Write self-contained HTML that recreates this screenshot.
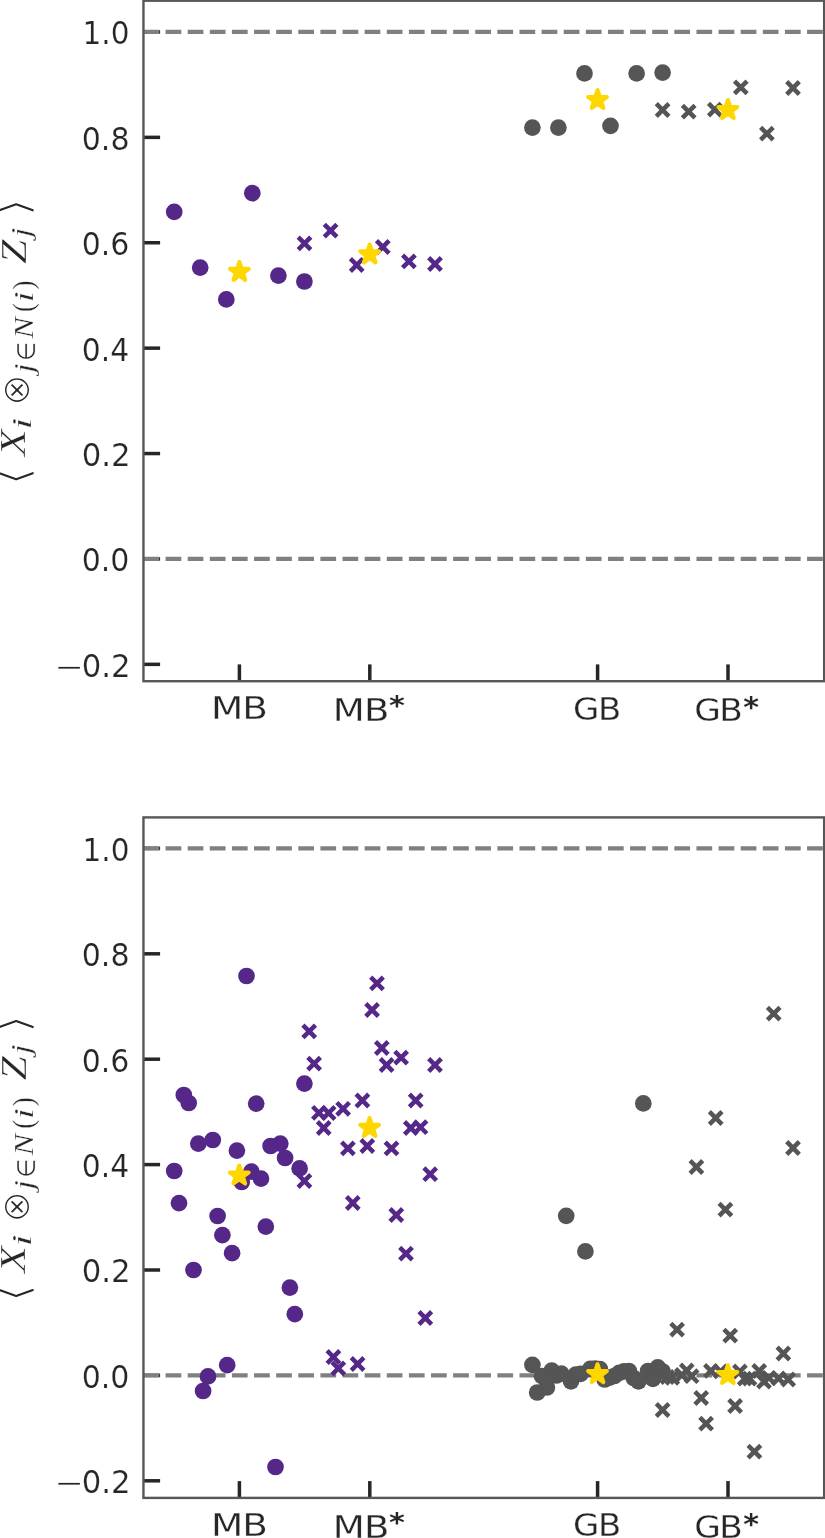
<!DOCTYPE html>
<html lang="en">
<head>
<meta charset="utf-8">
<title>Stabilizer expectation values</title>
<style>
html,body{margin:0;padding:0;background:#fff;}
svg{display:block;}
</style>
</head>
<body>
<svg width="825" height="1538" viewBox="0 0 825 1538">
<rect width="825" height="1538" fill="#fff"/>
<g id="plot-top">
<path d="M143.45 31.95H160.1" stroke="#262626" stroke-width="3.5"/>
<path d="M143.45 137.35H160.1" stroke="#262626" stroke-width="3.5"/>
<path d="M143.45 242.75H160.1" stroke="#262626" stroke-width="3.5"/>
<path d="M143.45 348.15H160.1" stroke="#262626" stroke-width="3.5"/>
<path d="M143.45 453.55H160.1" stroke="#262626" stroke-width="3.5"/>
<path d="M143.45 558.95H160.1" stroke="#262626" stroke-width="3.5"/>
<path d="M143.45 664.35H160.1" stroke="#262626" stroke-width="3.5"/>
<path d="M239.4 681.1V664.4" stroke="#262626" stroke-width="3.5"/>
<path d="M369.8 681.1V664.4" stroke="#262626" stroke-width="3.5"/>
<path d="M597.6 681.1V664.4" stroke="#262626" stroke-width="3.5"/>
<path d="M728.0 681.1V664.4" stroke="#262626" stroke-width="3.5"/>
<path d="M143.45 31.95H824.1" stroke="#808080" stroke-width="4.17" stroke-dasharray="15.72 6.40"/>
<path d="M143.45 558.95H824.1" stroke="#808080" stroke-width="4.17" stroke-dasharray="15.72 6.40"/>
<circle cx="174.2" cy="211.9" r="8.35" fill="#542788"/>
<circle cx="200.2" cy="267.6" r="8.35" fill="#542788"/>
<circle cx="226.3" cy="299.4" r="8.35" fill="#542788"/>
<circle cx="252.3" cy="193.2" r="8.35" fill="#542788"/>
<circle cx="278.4" cy="275.6" r="8.35" fill="#542788"/>
<circle cx="304.4" cy="281.5" r="8.35" fill="#542788"/>
<path d="M298.2 237.1L310.8 249.7M298.2 249.7L310.8 237.1" stroke="#542788" stroke-width="4.5" fill="none"/>
<path d="M324.3 224.3L336.9 236.9M324.3 236.9L336.9 224.3" stroke="#542788" stroke-width="4.5" fill="none"/>
<path d="M350.4 258.7L363.0 271.3M350.4 271.3L363.0 258.7" stroke="#542788" stroke-width="4.5" fill="none"/>
<path d="M376.5 240.7L389.1 253.3M376.5 253.3L389.1 240.7" stroke="#542788" stroke-width="4.5" fill="none"/>
<path d="M402.6 255.1L415.2 267.7M402.6 267.7L415.2 255.1" stroke="#542788" stroke-width="4.5" fill="none"/>
<path d="M428.7 257.7L441.3 270.3M428.7 270.3L441.3 257.7" stroke="#542788" stroke-width="4.5" fill="none"/>
<circle cx="532.4" cy="127.6" r="8.35" fill="#555555"/>
<circle cx="558.4" cy="127.6" r="8.35" fill="#555555"/>
<circle cx="584.5" cy="73.4" r="8.35" fill="#555555"/>
<circle cx="610.5" cy="125.8" r="8.35" fill="#555555"/>
<circle cx="636.6" cy="73.4" r="8.35" fill="#555555"/>
<circle cx="662.6" cy="72.6" r="8.35" fill="#555555"/>
<path d="M656.3 103.7L668.9 116.3M656.3 116.3L668.9 103.7" stroke="#555555" stroke-width="4.5" fill="none"/>
<path d="M682.4 105.3L695.0 117.9M682.4 117.9L695.0 105.3" stroke="#555555" stroke-width="4.5" fill="none"/>
<path d="M708.5 103.3L721.1 115.9M708.5 115.9L721.1 103.3" stroke="#555555" stroke-width="4.5" fill="none"/>
<path d="M734.5 81.1L747.1 93.7M734.5 93.7L747.1 81.1" stroke="#555555" stroke-width="4.5" fill="none"/>
<path d="M760.6 127.3L773.2 139.9M760.6 139.9L773.2 127.3" stroke="#555555" stroke-width="4.5" fill="none"/>
<path d="M786.7 81.7L799.3 94.3M786.7 94.3L799.3 81.7" stroke="#555555" stroke-width="4.5" fill="none"/>
<polygon points="239.40,262.10 237.20,268.87 230.08,268.87 235.84,273.06 233.64,279.83 239.40,275.64 245.16,279.83 242.96,273.06 248.72,268.87 241.60,268.87" fill="#FFD700" stroke="#FFD700" stroke-width="4.17" stroke-linejoin="round"/>
<polygon points="369.70,244.60 367.50,251.37 360.38,251.37 366.14,255.56 363.94,262.33 369.70,258.14 375.46,262.33 373.26,255.56 379.02,251.37 371.90,251.37" fill="#FFD700" stroke="#FFD700" stroke-width="4.17" stroke-linejoin="round"/>
<polygon points="597.55,90.20 595.35,96.97 588.23,96.97 593.99,101.16 591.79,107.93 597.55,103.74 603.31,107.93 601.11,101.16 606.87,96.97 599.75,96.97" fill="#FFD700" stroke="#FFD700" stroke-width="4.17" stroke-linejoin="round"/>
<polygon points="727.90,100.20 725.70,106.97 718.58,106.97 724.34,111.16 722.14,117.93 727.90,113.74 733.66,117.93 731.46,111.16 737.22,106.97 730.10,106.97" fill="#FFD700" stroke="#FFD700" stroke-width="4.17" stroke-linejoin="round"/>
<rect x="143.45" y="0.7" width="680.7" height="680.5" fill="none" stroke="#575757" stroke-width="2.4"/>
<text transform="matrix(0.2948 0 0 0.3225 82.56 44.34)" font-family="'DejaVu Sans', 'Liberation Sans', sans-serif" font-style="normal" font-size="100" fill="#262626" stroke="#fff" stroke-width="0.2" vector-effect="non-scaling-stroke" stroke-linejoin="round">1.0</text>
<text transform="matrix(0.3008 0 0 0.3222 81.71 149.73)" font-family="'DejaVu Sans', 'Liberation Sans', sans-serif" font-style="normal" font-size="100" fill="#262626" stroke="#fff" stroke-width="0.2" vector-effect="non-scaling-stroke" stroke-linejoin="round">0.8</text>
<text transform="matrix(0.2997 0 0 0.3223 81.72 255.13)" font-family="'DejaVu Sans', 'Liberation Sans', sans-serif" font-style="normal" font-size="100" fill="#262626" stroke="#fff" stroke-width="0.2" vector-effect="non-scaling-stroke" stroke-linejoin="round">0.6</text>
<text transform="matrix(0.2982 0 0 0.3225 81.73 360.54)" font-family="'DejaVu Sans', 'Liberation Sans', sans-serif" font-style="normal" font-size="100" fill="#262626" stroke="#fff" stroke-width="0.2" vector-effect="non-scaling-stroke" stroke-linejoin="round">0.4</text>
<text transform="matrix(0.3074 0 0 0.3225 81.67 465.94)" font-family="'DejaVu Sans', 'Liberation Sans', sans-serif" font-style="normal" font-size="100" fill="#262626" stroke="#fff" stroke-width="0.2" vector-effect="non-scaling-stroke" stroke-linejoin="round">0.2</text>
<text transform="matrix(0.3003 0 0 0.3225 81.71 571.34)" font-family="'DejaVu Sans', 'Liberation Sans', sans-serif" font-style="normal" font-size="100" fill="#262626" stroke="#fff" stroke-width="0.2" vector-effect="non-scaling-stroke" stroke-linejoin="round">0.0</text>
<text transform="matrix(0.3074 0 0 0.3225 81.67 676.74)" font-family="'DejaVu Sans', 'Liberation Sans', sans-serif" font-style="normal" font-size="100" fill="#262626" stroke="#fff" stroke-width="0.2" vector-effect="non-scaling-stroke" stroke-linejoin="round">0.2</text>
<text transform="matrix(0.3436 0 0 0.2060 54.69 673.96)" font-family="'DejaVu Sans', 'Liberation Sans', sans-serif" font-style="normal" font-size="100" fill="#262626">−</text>
<text transform="matrix(0.3742 0 0 0.3247 0 719.45)" x="563.95 647.22" font-family="'DejaVu Sans', 'Liberation Sans', sans-serif" font-style="normal" font-size="100" fill="#262626" stroke="#fff" stroke-width="0.3" vector-effect="non-scaling-stroke" stroke-linejoin="round">MB</text>
<text transform="matrix(0.3709 0 0 0.3233 0 721.25)" x="897.25 981.47" font-family="'DejaVu Sans', 'Liberation Sans', sans-serif" font-style="normal" font-size="100" fill="#262626" stroke="#fff" stroke-width="0.3" vector-effect="non-scaling-stroke" stroke-linejoin="round">MB<tspan x="1049.14" dy="-18.02" font-weight="bold" font-size="81.7">*</tspan></text>
<text transform="matrix(0.3399 0 0 0.3239 0 719.63)" x="1686.01 1759.60" font-family="'DejaVu Sans', 'Liberation Sans', sans-serif" font-style="normal" font-size="100" fill="#262626" stroke="#fff" stroke-width="0.3" vector-effect="non-scaling-stroke" stroke-linejoin="round">GB</text>
<text transform="matrix(0.3442 0 0 0.3252 0 721.32)" x="2016.98 2089.81" font-family="'DejaVu Sans', 'Liberation Sans', sans-serif" font-style="normal" font-size="100" fill="#262626" stroke="#fff" stroke-width="0.3" vector-effect="non-scaling-stroke" stroke-linejoin="round">GB<tspan x="2159.53" dy="-13.53" font-weight="bold" font-size="87.4">*</tspan></text>
<text transform="matrix(0 -0.4765 0.4067 0 29.41 485.59)" font-family="'DejaVu Sans', 'Liberation Sans', sans-serif" font-style="normal" font-size="100" fill="#262626" stroke="#fff" stroke-width="1.4" vector-effect="non-scaling-stroke" stroke-linejoin="round">⟨</text>
<text transform="matrix(0 -0.4365 0.3588 0 25.42 456.03)" font-family="'Liberation Serif', 'DejaVu Serif', serif" font-style="italic" font-size="100" fill="#262626" stroke="#fff" stroke-width="0.4" vector-effect="non-scaling-stroke" stroke-linejoin="round">X</text>
<text transform="matrix(0 -0.4209 0.2806 0 31.21 429.50)" font-family="'Liberation Serif', 'DejaVu Serif', serif" font-style="italic" font-size="100" fill="#262626" stroke="#fff" stroke-width="0.3" vector-effect="non-scaling-stroke" stroke-linejoin="round">i</text>
<text transform="matrix(0 -0.3842 0.3806 0 28.70 405.98)" font-family="'DejaVu Sans', 'Liberation Sans', sans-serif" font-style="normal" font-size="100" fill="#262626" stroke="#fff" stroke-width="1.3" vector-effect="non-scaling-stroke" stroke-linejoin="round">⊗</text>
<text transform="matrix(0 -0.3355 0.2663 0 32.56 372.73)" font-family="'Liberation Serif', 'DejaVu Serif', serif" font-style="italic" font-size="100" fill="#262626" stroke="#fff" stroke-width="0.3" vector-effect="non-scaling-stroke" stroke-linejoin="round">j</text>
<text transform="matrix(0 -0.2173 0.2528 0 35.00 360.86)" font-family="'DejaVu Sans', 'Liberation Sans', sans-serif" font-style="normal" font-size="100" fill="#262626" stroke="#fff" stroke-width="0.3" vector-effect="non-scaling-stroke" stroke-linejoin="round">∈</text>
<text transform="matrix(0 -0.3260 0.2718 0 32.52 338.68)" font-family="'Liberation Serif', 'DejaVu Serif', serif" font-style="italic" font-size="100" fill="#262626" stroke="#fff" stroke-width="0.3" vector-effect="non-scaling-stroke" stroke-linejoin="round">N</text>
<text transform="matrix(0 -0.2649 0.2898 0 33.10 312.12)" font-family="'Liberation Serif', 'DejaVu Serif', serif" font-style="normal" font-size="100" fill="#262626" stroke="#fff" stroke-width="0.3" vector-effect="non-scaling-stroke" stroke-linejoin="round">(</text>
<text transform="matrix(0 -0.4050 0.2700 0 32.82 302.46)" font-family="'Liberation Serif', 'DejaVu Serif', serif" font-style="italic" font-size="100" fill="#262626" stroke="#fff" stroke-width="0.3" vector-effect="non-scaling-stroke" stroke-linejoin="round">i</text>
<text transform="matrix(0 -0.2809 0.2885 0 33.07 289.76)" font-family="'Liberation Serif', 'DejaVu Serif', serif" font-style="normal" font-size="100" fill="#262626" stroke="#fff" stroke-width="0.3" vector-effect="non-scaling-stroke" stroke-linejoin="round">)</text>
<text transform="matrix(0 -0.4325 0.3615 0 25.60 263.67)" font-family="'Liberation Serif', 'DejaVu Serif', serif" font-style="italic" font-size="100" fill="#262626" stroke="#fff" stroke-width="0.4" vector-effect="non-scaling-stroke" stroke-linejoin="round">Z</text>
<text transform="matrix(0 -0.3438 0.2628 0 30.03 237.34)" font-family="'Liberation Serif', 'DejaVu Serif', serif" font-style="italic" font-size="100" fill="#262626" stroke="#fff" stroke-width="0.3" vector-effect="non-scaling-stroke" stroke-linejoin="round">j</text>
<text transform="matrix(0 -0.4769 0.4067 0 29.41 216.61)" font-family="'DejaVu Sans', 'Liberation Sans', sans-serif" font-style="normal" font-size="100" fill="#262626" stroke="#fff" stroke-width="1.4" vector-effect="non-scaling-stroke" stroke-linejoin="round">⟩</text>
</g>
<g id="plot-bottom">
<path d="M143.45 848.40H160.1" stroke="#262626" stroke-width="3.5"/>
<path d="M143.45 953.80H160.1" stroke="#262626" stroke-width="3.5"/>
<path d="M143.45 1059.20H160.1" stroke="#262626" stroke-width="3.5"/>
<path d="M143.45 1164.60H160.1" stroke="#262626" stroke-width="3.5"/>
<path d="M143.45 1270.00H160.1" stroke="#262626" stroke-width="3.5"/>
<path d="M143.45 1375.40H160.1" stroke="#262626" stroke-width="3.5"/>
<path d="M143.45 1480.80H160.1" stroke="#262626" stroke-width="3.5"/>
<path d="M239.4 1497.8V1481.1" stroke="#262626" stroke-width="3.5"/>
<path d="M369.8 1497.8V1481.1" stroke="#262626" stroke-width="3.5"/>
<path d="M597.6 1497.8V1481.1" stroke="#262626" stroke-width="3.5"/>
<path d="M728.0 1497.8V1481.1" stroke="#262626" stroke-width="3.5"/>
<path d="M143.45 848.40H824.1" stroke="#808080" stroke-width="4.17" stroke-dasharray="15.72 6.40"/>
<path d="M143.45 1375.40H824.1" stroke="#808080" stroke-width="4.17" stroke-dasharray="15.72 6.40"/>
<circle cx="174.2" cy="1171.0" r="8.35" fill="#542788"/>
<circle cx="179.0" cy="1203.2" r="8.35" fill="#542788"/>
<circle cx="183.8" cy="1095.0" r="8.35" fill="#542788"/>
<circle cx="188.7" cy="1103.0" r="8.35" fill="#542788"/>
<circle cx="193.5" cy="1270.0" r="8.35" fill="#542788"/>
<circle cx="198.3" cy="1143.6" r="8.35" fill="#542788"/>
<circle cx="203.1" cy="1391.0" r="8.35" fill="#542788"/>
<circle cx="208.0" cy="1376.4" r="8.35" fill="#542788"/>
<circle cx="212.8" cy="1140.0" r="8.35" fill="#542788"/>
<circle cx="217.6" cy="1216.0" r="8.35" fill="#542788"/>
<circle cx="222.4" cy="1235.2" r="8.35" fill="#542788"/>
<circle cx="227.2" cy="1365.2" r="8.35" fill="#542788"/>
<circle cx="232.1" cy="1253.2" r="8.35" fill="#542788"/>
<circle cx="236.9" cy="1150.6" r="8.35" fill="#542788"/>
<circle cx="241.7" cy="1182.0" r="8.35" fill="#542788"/>
<circle cx="246.5" cy="976.0" r="8.35" fill="#542788"/>
<circle cx="251.4" cy="1171.6" r="8.35" fill="#542788"/>
<circle cx="256.2" cy="1103.6" r="8.35" fill="#542788"/>
<circle cx="261.0" cy="1178.6" r="8.35" fill="#542788"/>
<circle cx="265.8" cy="1226.6" r="8.35" fill="#542788"/>
<circle cx="270.6" cy="1146.0" r="8.35" fill="#542788"/>
<circle cx="275.5" cy="1467.0" r="8.35" fill="#542788"/>
<circle cx="280.3" cy="1143.6" r="8.35" fill="#542788"/>
<circle cx="285.1" cy="1158.0" r="8.35" fill="#542788"/>
<circle cx="289.9" cy="1287.6" r="8.35" fill="#542788"/>
<circle cx="294.8" cy="1314.2" r="8.35" fill="#542788"/>
<circle cx="299.6" cy="1168.4" r="8.35" fill="#542788"/>
<circle cx="304.4" cy="1083.6" r="8.35" fill="#542788"/>
<path d="M298.1 1174.7L310.7 1187.3M298.1 1187.3L310.7 1174.7" stroke="#542788" stroke-width="4.5" fill="none"/>
<path d="M302.9 1025.1L315.5 1037.7M302.9 1037.7L315.5 1025.1" stroke="#542788" stroke-width="4.5" fill="none"/>
<path d="M307.8 1057.3L320.4 1069.9M307.8 1069.9L320.4 1057.3" stroke="#542788" stroke-width="4.5" fill="none"/>
<path d="M312.6 1106.5L325.2 1119.1M312.6 1119.1L325.2 1106.5" stroke="#542788" stroke-width="4.5" fill="none"/>
<path d="M317.4 1121.7L330.0 1134.3M317.4 1134.3L330.0 1121.7" stroke="#542788" stroke-width="4.5" fill="none"/>
<path d="M322.3 1106.7L334.9 1119.3M322.3 1119.3L334.9 1106.7" stroke="#542788" stroke-width="4.5" fill="none"/>
<path d="M327.1 1350.7L339.7 1363.3M327.1 1363.3L339.7 1350.7" stroke="#542788" stroke-width="4.5" fill="none"/>
<path d="M332.0 1362.1L344.6 1374.7M332.0 1374.7L344.6 1362.1" stroke="#542788" stroke-width="4.5" fill="none"/>
<path d="M336.8 1102.5L349.4 1115.1M336.8 1115.1L349.4 1102.5" stroke="#542788" stroke-width="4.5" fill="none"/>
<path d="M341.6 1142.1L354.2 1154.7M341.6 1154.7L354.2 1142.1" stroke="#542788" stroke-width="4.5" fill="none"/>
<path d="M346.5 1196.7L359.1 1209.3M346.5 1209.3L359.1 1196.7" stroke="#542788" stroke-width="4.5" fill="none"/>
<path d="M351.3 1357.7L363.9 1370.3M351.3 1370.3L363.9 1357.7" stroke="#542788" stroke-width="4.5" fill="none"/>
<path d="M356.1 1094.2L368.7 1106.8M356.1 1106.8L368.7 1094.2" stroke="#542788" stroke-width="4.5" fill="none"/>
<path d="M361.0 1139.7L373.6 1152.3M361.0 1152.3L373.6 1139.7" stroke="#542788" stroke-width="4.5" fill="none"/>
<path d="M365.8 1003.7L378.4 1016.3M365.8 1016.3L378.4 1003.7" stroke="#542788" stroke-width="4.5" fill="none"/>
<path d="M370.7 977.1L383.3 989.7M370.7 989.7L383.3 977.1" stroke="#542788" stroke-width="4.5" fill="none"/>
<path d="M375.5 1041.7L388.1 1054.3M375.5 1054.3L388.1 1041.7" stroke="#542788" stroke-width="4.5" fill="none"/>
<path d="M380.3 1058.7L392.9 1071.3M380.3 1071.3L392.9 1058.7" stroke="#542788" stroke-width="4.5" fill="none"/>
<path d="M385.2 1142.1L397.8 1154.7M385.2 1154.7L397.8 1142.1" stroke="#542788" stroke-width="4.5" fill="none"/>
<path d="M390.0 1208.7L402.6 1221.3M390.0 1221.3L402.6 1208.7" stroke="#542788" stroke-width="4.5" fill="none"/>
<path d="M394.8 1051.3L407.4 1063.9M394.8 1063.9L407.4 1051.3" stroke="#542788" stroke-width="4.5" fill="none"/>
<path d="M399.7 1247.3L412.3 1259.9M399.7 1259.9L412.3 1247.3" stroke="#542788" stroke-width="4.5" fill="none"/>
<path d="M404.5 1121.7L417.1 1134.3M404.5 1134.3L417.1 1121.7" stroke="#542788" stroke-width="4.5" fill="none"/>
<path d="M409.4 1094.2L422.0 1106.8M409.4 1106.8L422.0 1094.2" stroke="#542788" stroke-width="4.5" fill="none"/>
<path d="M414.2 1120.9L426.8 1133.5M414.2 1133.5L426.8 1120.9" stroke="#542788" stroke-width="4.5" fill="none"/>
<path d="M419.0 1311.7L431.6 1324.3M419.0 1324.3L431.6 1311.7" stroke="#542788" stroke-width="4.5" fill="none"/>
<path d="M423.9 1167.9L436.5 1180.5M423.9 1180.5L436.5 1167.9" stroke="#542788" stroke-width="4.5" fill="none"/>
<path d="M428.7 1058.7L441.3 1071.3M428.7 1071.3L441.3 1058.7" stroke="#542788" stroke-width="4.5" fill="none"/>
<circle cx="532.4" cy="1364.8" r="8.35" fill="#555555"/>
<circle cx="537.2" cy="1392.5" r="8.35" fill="#555555"/>
<circle cx="542.0" cy="1376.2" r="8.35" fill="#555555"/>
<circle cx="546.9" cy="1387.5" r="8.35" fill="#555555"/>
<circle cx="551.7" cy="1370.7" r="8.35" fill="#555555"/>
<circle cx="556.5" cy="1375.5" r="8.35" fill="#555555"/>
<circle cx="561.3" cy="1373.6" r="8.35" fill="#555555"/>
<circle cx="566.2" cy="1215.8" r="8.35" fill="#555555"/>
<circle cx="571.0" cy="1381.3" r="8.35" fill="#555555"/>
<circle cx="575.8" cy="1374.7" r="8.35" fill="#555555"/>
<circle cx="580.6" cy="1373.9" r="8.35" fill="#555555"/>
<circle cx="585.4" cy="1251.4" r="8.35" fill="#555555"/>
<circle cx="590.3" cy="1368.8" r="8.35" fill="#555555"/>
<circle cx="595.1" cy="1368.6" r="8.35" fill="#555555"/>
<circle cx="599.9" cy="1369.2" r="8.35" fill="#555555"/>
<circle cx="604.7" cy="1379.5" r="8.35" fill="#555555"/>
<circle cx="609.6" cy="1377.7" r="8.35" fill="#555555"/>
<circle cx="614.4" cy="1376.0" r="8.35" fill="#555555"/>
<circle cx="619.2" cy="1372.8" r="8.35" fill="#555555"/>
<circle cx="624.0" cy="1371.4" r="8.35" fill="#555555"/>
<circle cx="628.8" cy="1371.0" r="8.35" fill="#555555"/>
<circle cx="633.7" cy="1378.0" r="8.35" fill="#555555"/>
<circle cx="638.5" cy="1381.3" r="8.35" fill="#555555"/>
<circle cx="643.3" cy="1103.4" r="8.35" fill="#555555"/>
<circle cx="648.1" cy="1371.0" r="8.35" fill="#555555"/>
<circle cx="652.9" cy="1378.8" r="8.35" fill="#555555"/>
<circle cx="657.8" cy="1367.4" r="8.35" fill="#555555"/>
<circle cx="662.6" cy="1371.5" r="8.35" fill="#555555"/>
<path d="M656.3 1403.7L668.9 1416.3M656.3 1416.3L668.9 1403.7" stroke="#555555" stroke-width="4.5" fill="none"/>
<path d="M661.1 1370.7L673.7 1383.3M661.1 1383.3L673.7 1370.7" stroke="#555555" stroke-width="4.5" fill="none"/>
<path d="M666.0 1371.5L678.6 1384.1M666.0 1384.1L678.6 1371.5" stroke="#555555" stroke-width="4.5" fill="none"/>
<path d="M670.8 1323.3L683.4 1335.9M670.8 1335.9L683.4 1323.3" stroke="#555555" stroke-width="4.5" fill="none"/>
<path d="M675.6 1368.7L688.2 1381.3M675.6 1381.3L688.2 1368.7" stroke="#555555" stroke-width="4.5" fill="none"/>
<path d="M680.5 1364.2L693.0 1376.8M680.5 1376.8L693.0 1364.2" stroke="#555555" stroke-width="4.5" fill="none"/>
<path d="M685.3 1369.9L697.9 1382.5M685.3 1382.5L697.9 1369.9" stroke="#555555" stroke-width="4.5" fill="none"/>
<path d="M690.1 1160.7L702.7 1173.3M690.1 1173.3L702.7 1160.7" stroke="#555555" stroke-width="4.5" fill="none"/>
<path d="M694.9 1391.7L707.5 1404.3M694.9 1404.3L707.5 1391.7" stroke="#555555" stroke-width="4.5" fill="none"/>
<path d="M699.8 1417.3L712.4 1429.9M699.8 1429.9L712.4 1417.3" stroke="#555555" stroke-width="4.5" fill="none"/>
<path d="M704.6 1364.6L717.2 1377.2M704.6 1377.2L717.2 1364.6" stroke="#555555" stroke-width="4.5" fill="none"/>
<path d="M709.4 1111.7L722.0 1124.3M709.4 1124.3L722.0 1111.7" stroke="#555555" stroke-width="4.5" fill="none"/>
<path d="M714.3 1365.0L726.9 1377.6M714.3 1377.6L726.9 1365.0" stroke="#555555" stroke-width="4.5" fill="none"/>
<path d="M719.1 1203.3L731.7 1215.9M719.1 1215.9L731.7 1203.3" stroke="#555555" stroke-width="4.5" fill="none"/>
<path d="M723.9 1329.3L736.5 1341.9M723.9 1341.9L736.5 1329.3" stroke="#555555" stroke-width="4.5" fill="none"/>
<path d="M728.8 1399.7L741.4 1412.3M728.8 1412.3L741.4 1399.7" stroke="#555555" stroke-width="4.5" fill="none"/>
<path d="M733.6 1365.2L746.2 1377.8M733.6 1377.8L746.2 1365.2" stroke="#555555" stroke-width="4.5" fill="none"/>
<path d="M738.4 1372.3L751.0 1384.9M738.4 1384.9L751.0 1372.3" stroke="#555555" stroke-width="4.5" fill="none"/>
<path d="M743.2 1372.3L755.8 1384.9M743.2 1384.9L755.8 1372.3" stroke="#555555" stroke-width="4.5" fill="none"/>
<path d="M748.1 1445.3L760.7 1457.9M748.1 1457.9L760.7 1445.3" stroke="#555555" stroke-width="4.5" fill="none"/>
<path d="M752.9 1364.7L765.5 1377.3M752.9 1377.3L765.5 1364.7" stroke="#555555" stroke-width="4.5" fill="none"/>
<path d="M757.7 1375.3L770.3 1387.9M757.7 1387.9L770.3 1375.3" stroke="#555555" stroke-width="4.5" fill="none"/>
<path d="M762.6 1371.5L775.2 1384.1M762.6 1384.1L775.2 1371.5" stroke="#555555" stroke-width="4.5" fill="none"/>
<path d="M767.4 1007.3L780.0 1019.9M767.4 1019.9L780.0 1007.3" stroke="#555555" stroke-width="4.5" fill="none"/>
<path d="M772.2 1372.1L784.8 1384.7M772.2 1384.7L784.8 1372.1" stroke="#555555" stroke-width="4.5" fill="none"/>
<path d="M777.1 1347.2L789.6 1359.8M777.1 1359.8L789.6 1347.2" stroke="#555555" stroke-width="4.5" fill="none"/>
<path d="M781.9 1373.2L794.5 1385.8M781.9 1385.8L794.5 1373.2" stroke="#555555" stroke-width="4.5" fill="none"/>
<path d="M786.7 1141.7L799.3 1154.3M786.7 1154.3L799.3 1141.7" stroke="#555555" stroke-width="4.5" fill="none"/>
<polygon points="239.30,1165.70 237.10,1172.47 229.98,1172.47 235.74,1176.66 233.54,1183.43 239.30,1179.24 245.06,1183.43 242.86,1176.66 248.62,1172.47 241.50,1172.47" fill="#FFD700" stroke="#FFD700" stroke-width="4.17" stroke-linejoin="round"/>
<polygon points="369.60,1118.10 367.40,1124.87 360.28,1124.87 366.04,1129.06 363.84,1135.83 369.60,1131.64 375.36,1135.83 373.16,1129.06 378.92,1124.87 371.80,1124.87" fill="#FFD700" stroke="#FFD700" stroke-width="4.17" stroke-linejoin="round"/>
<polygon points="597.50,1364.30 595.30,1371.07 588.18,1371.07 593.94,1375.26 591.74,1382.03 597.50,1377.84 603.26,1382.03 601.06,1375.26 606.82,1371.07 599.70,1371.07" fill="#FFD700" stroke="#FFD700" stroke-width="4.17" stroke-linejoin="round"/>
<polygon points="727.85,1365.20 725.65,1371.97 718.53,1371.97 724.29,1376.16 722.09,1382.93 727.85,1378.74 733.61,1382.93 731.41,1376.16 737.17,1371.97 730.05,1371.97" fill="#FFD700" stroke="#FFD700" stroke-width="4.17" stroke-linejoin="round"/>
<rect x="143.45" y="817.4" width="680.7" height="680.5" fill="none" stroke="#575757" stroke-width="2.4"/>
<text transform="matrix(0.2948 0 0 0.3225 82.56 860.79)" font-family="'DejaVu Sans', 'Liberation Sans', sans-serif" font-style="normal" font-size="100" fill="#262626" stroke="#fff" stroke-width="0.2" vector-effect="non-scaling-stroke" stroke-linejoin="round">1.0</text>
<text transform="matrix(0.3008 0 0 0.3222 81.71 966.18)" font-family="'DejaVu Sans', 'Liberation Sans', sans-serif" font-style="normal" font-size="100" fill="#262626" stroke="#fff" stroke-width="0.2" vector-effect="non-scaling-stroke" stroke-linejoin="round">0.8</text>
<text transform="matrix(0.2997 0 0 0.3223 81.72 1071.58)" font-family="'DejaVu Sans', 'Liberation Sans', sans-serif" font-style="normal" font-size="100" fill="#262626" stroke="#fff" stroke-width="0.2" vector-effect="non-scaling-stroke" stroke-linejoin="round">0.6</text>
<text transform="matrix(0.2982 0 0 0.3225 81.73 1176.99)" font-family="'DejaVu Sans', 'Liberation Sans', sans-serif" font-style="normal" font-size="100" fill="#262626" stroke="#fff" stroke-width="0.2" vector-effect="non-scaling-stroke" stroke-linejoin="round">0.4</text>
<text transform="matrix(0.3074 0 0 0.3225 81.67 1282.39)" font-family="'DejaVu Sans', 'Liberation Sans', sans-serif" font-style="normal" font-size="100" fill="#262626" stroke="#fff" stroke-width="0.2" vector-effect="non-scaling-stroke" stroke-linejoin="round">0.2</text>
<text transform="matrix(0.3003 0 0 0.3225 81.71 1387.79)" font-family="'DejaVu Sans', 'Liberation Sans', sans-serif" font-style="normal" font-size="100" fill="#262626" stroke="#fff" stroke-width="0.2" vector-effect="non-scaling-stroke" stroke-linejoin="round">0.0</text>
<text transform="matrix(0.3074 0 0 0.3225 81.67 1493.19)" font-family="'DejaVu Sans', 'Liberation Sans', sans-serif" font-style="normal" font-size="100" fill="#262626" stroke="#fff" stroke-width="0.2" vector-effect="non-scaling-stroke" stroke-linejoin="round">0.2</text>
<text transform="matrix(0.3436 0 0 0.2060 54.69 1490.41)" font-family="'DejaVu Sans', 'Liberation Sans', sans-serif" font-style="normal" font-size="100" fill="#262626">−</text>
<text transform="matrix(0.3742 0 0 0.3247 0 1536.15)" x="563.95 647.22" font-family="'DejaVu Sans', 'Liberation Sans', sans-serif" font-style="normal" font-size="100" fill="#262626" stroke="#fff" stroke-width="0.3" vector-effect="non-scaling-stroke" stroke-linejoin="round">MB</text>
<text transform="matrix(0.3709 0 0 0.3233 0 1537.95)" x="897.25 981.47" font-family="'DejaVu Sans', 'Liberation Sans', sans-serif" font-style="normal" font-size="100" fill="#262626" stroke="#fff" stroke-width="0.3" vector-effect="non-scaling-stroke" stroke-linejoin="round">MB<tspan x="1049.14" dy="-18.02" font-weight="bold" font-size="81.7">*</tspan></text>
<text transform="matrix(0.3399 0 0 0.3239 0 1536.33)" x="1686.01 1759.60" font-family="'DejaVu Sans', 'Liberation Sans', sans-serif" font-style="normal" font-size="100" fill="#262626" stroke="#fff" stroke-width="0.3" vector-effect="non-scaling-stroke" stroke-linejoin="round">GB</text>
<text transform="matrix(0.3442 0 0 0.3252 0 1538.02)" x="2016.98 2089.81" font-family="'DejaVu Sans', 'Liberation Sans', sans-serif" font-style="normal" font-size="100" fill="#262626" stroke="#fff" stroke-width="0.3" vector-effect="non-scaling-stroke" stroke-linejoin="round">GB<tspan x="2159.53" dy="-13.53" font-weight="bold" font-size="87.4">*</tspan></text>
<text transform="matrix(0 -0.4765 0.4067 0 29.41 1302.29)" font-family="'DejaVu Sans', 'Liberation Sans', sans-serif" font-style="normal" font-size="100" fill="#262626" stroke="#fff" stroke-width="1.4" vector-effect="non-scaling-stroke" stroke-linejoin="round">⟨</text>
<text transform="matrix(0 -0.4365 0.3588 0 25.42 1272.73)" font-family="'Liberation Serif', 'DejaVu Serif', serif" font-style="italic" font-size="100" fill="#262626" stroke="#fff" stroke-width="0.4" vector-effect="non-scaling-stroke" stroke-linejoin="round">X</text>
<text transform="matrix(0 -0.4209 0.2806 0 31.21 1246.20)" font-family="'Liberation Serif', 'DejaVu Serif', serif" font-style="italic" font-size="100" fill="#262626" stroke="#fff" stroke-width="0.3" vector-effect="non-scaling-stroke" stroke-linejoin="round">i</text>
<text transform="matrix(0 -0.3842 0.3806 0 28.70 1222.68)" font-family="'DejaVu Sans', 'Liberation Sans', sans-serif" font-style="normal" font-size="100" fill="#262626" stroke="#fff" stroke-width="1.3" vector-effect="non-scaling-stroke" stroke-linejoin="round">⊗</text>
<text transform="matrix(0 -0.3355 0.2663 0 32.56 1189.43)" font-family="'Liberation Serif', 'DejaVu Serif', serif" font-style="italic" font-size="100" fill="#262626" stroke="#fff" stroke-width="0.3" vector-effect="non-scaling-stroke" stroke-linejoin="round">j</text>
<text transform="matrix(0 -0.2173 0.2528 0 35.00 1177.56)" font-family="'DejaVu Sans', 'Liberation Sans', sans-serif" font-style="normal" font-size="100" fill="#262626" stroke="#fff" stroke-width="0.3" vector-effect="non-scaling-stroke" stroke-linejoin="round">∈</text>
<text transform="matrix(0 -0.3260 0.2718 0 32.52 1155.38)" font-family="'Liberation Serif', 'DejaVu Serif', serif" font-style="italic" font-size="100" fill="#262626" stroke="#fff" stroke-width="0.3" vector-effect="non-scaling-stroke" stroke-linejoin="round">N</text>
<text transform="matrix(0 -0.2649 0.2898 0 33.10 1128.82)" font-family="'Liberation Serif', 'DejaVu Serif', serif" font-style="normal" font-size="100" fill="#262626" stroke="#fff" stroke-width="0.3" vector-effect="non-scaling-stroke" stroke-linejoin="round">(</text>
<text transform="matrix(0 -0.4050 0.2700 0 32.82 1119.16)" font-family="'Liberation Serif', 'DejaVu Serif', serif" font-style="italic" font-size="100" fill="#262626" stroke="#fff" stroke-width="0.3" vector-effect="non-scaling-stroke" stroke-linejoin="round">i</text>
<text transform="matrix(0 -0.2809 0.2885 0 33.07 1106.46)" font-family="'Liberation Serif', 'DejaVu Serif', serif" font-style="normal" font-size="100" fill="#262626" stroke="#fff" stroke-width="0.3" vector-effect="non-scaling-stroke" stroke-linejoin="round">)</text>
<text transform="matrix(0 -0.4325 0.3615 0 25.60 1080.37)" font-family="'Liberation Serif', 'DejaVu Serif', serif" font-style="italic" font-size="100" fill="#262626" stroke="#fff" stroke-width="0.4" vector-effect="non-scaling-stroke" stroke-linejoin="round">Z</text>
<text transform="matrix(0 -0.3438 0.2628 0 30.03 1054.04)" font-family="'Liberation Serif', 'DejaVu Serif', serif" font-style="italic" font-size="100" fill="#262626" stroke="#fff" stroke-width="0.3" vector-effect="non-scaling-stroke" stroke-linejoin="round">j</text>
<text transform="matrix(0 -0.4769 0.4067 0 29.41 1033.31)" font-family="'DejaVu Sans', 'Liberation Sans', sans-serif" font-style="normal" font-size="100" fill="#262626" stroke="#fff" stroke-width="1.4" vector-effect="non-scaling-stroke" stroke-linejoin="round">⟩</text>
</g>
</svg>
</body>
</html>
